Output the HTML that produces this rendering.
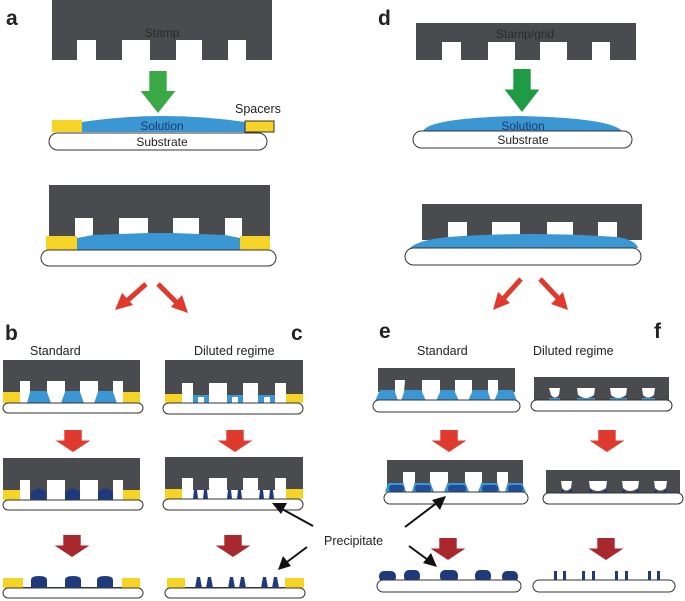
<!DOCTYPE html>
<html><head><meta charset="utf-8"><style>
html,body{margin:0;padding:0;background:#fff}
svg{display:block}
text{font-family:"Liberation Sans",sans-serif}
</style></head><body>
<svg width="685" height="601" viewBox="0 0 685 601" xmlns="http://www.w3.org/2000/svg">
<defs>
<g id="dn"><polygon points="-6,0 6,0 6,10 12,10 0,21 -12,10 -6,10"/></g>
</defs>
<g font-weight="bold" font-size="21" fill="#222">
<text x="6" y="25">a</text><text x="378" y="25">d</text>
<text x="5" y="340">b</text><text x="291" y="340">c</text>
<text x="379" y="338">e</text><text x="654" y="338">f</text>
</g>
<g font-size="12.5" fill="#222">
<text x="30" y="355">Standard</text><text x="194" y="355">Diluted regime</text>
<text x="417" y="355">Standard</text><text x="533" y="355">Diluted regime</text>
<text x="235" y="113">Spacers</text>
<text x="324" y="545">Precipitate</text>
</g>

<!-- a top -->
<rect x="52" y="0" width="220" height="60" fill="#4a4b4f"/>
<g fill="#fff"><rect x="77" y="40" width="19" height="21"/><rect x="122" y="40" width="28" height="21"/><rect x="176" y="40" width="26" height="21"/><rect x="228" y="40" width="18" height="21"/></g>
<text x="162" y="37" font-size="12" fill="#2a2a2a" text-anchor="middle">Stamp</text>
<g fill="#3aa845" transform="translate(158,71) scale(1.45,2)"><use href="#dn"/></g>
<path d="M82,132 L82,122 Q162,110 245,122 L245,132 Z" fill="#3a97d4"/>
<rect x="52" y="120" width="30" height="12" fill="#f5d327"/>
<rect x="245" y="121" width="29" height="11" fill="#f5d327" stroke="#333" stroke-width="1"/>
<text x="162" y="130" font-size="12" fill="#1a3a6a" text-anchor="middle">Solution</text>
<rect x="49" y="133" width="218" height="17" rx="8.5" fill="#fff" stroke="#333"/>
<text x="162" y="146" font-size="12" fill="#222" text-anchor="middle">Substrate</text>

<!-- a bottom -->
<rect x="49" y="185" width="221" height="52" fill="#4a4b4f"/>
<g fill="#fff"><rect x="75" y="218" width="18" height="20"/><rect x="119" y="218" width="29" height="20"/><rect x="173" y="218" width="26" height="20"/><rect x="225" y="218" width="17" height="20"/></g>
<path d="M77,250 L77,238 L93,235 L119,234 L148,233 L173,233 L199,234 L225,235 L240,238 L240,250 Z" fill="#3a97d4"/>
<rect x="46" y="236" width="31" height="14" fill="#f5d327"/>
<rect x="240" y="236" width="30" height="14" fill="#f5d327"/>
<rect x="41" y="250" width="235" height="16" rx="8" fill="#fff" stroke="#333"/>
<g stroke="#e03a2e" stroke-width="5"><line x1="146" y1="284" x2="128" y2="300"/><line x1="158" y1="284" x2="176" y2="302"/></g>
<g fill="#e03a2e"><polygon points="115,310 122,293 133,305"/><polygon points="188,313 171,307 182,295"/></g>

<!-- d top -->
<rect x="416" y="23" width="220" height="37" fill="#4a4b4f"/>
<g fill="#fff"><rect x="442" y="42" width="19" height="19"/><rect x="488" y="42" width="27" height="19"/><rect x="540" y="42" width="27" height="19"/><rect x="592" y="42" width="18" height="19"/></g>
<text x="525" y="38" font-size="12" fill="#2a2a2a" text-anchor="middle">Stamp/grid</text>
<g fill="#1f9a45" transform="translate(522,69) scale(1.45,2.05)"><use href="#dn"/></g>
<path d="M423,131 Q430,118 520,116 Q610,118 622,131 Z" fill="#3a97d4"/>
<text x="523" y="130" font-size="12" fill="#1a3a6a" text-anchor="middle">Solution</text>
<rect x="413" y="131" width="219" height="17" rx="8.5" fill="#fff" stroke="#333"/>
<text x="523" y="144" font-size="12" fill="#222" text-anchor="middle">Substrate</text>

<!-- d bottom -->
<rect x="422" y="204" width="220" height="36" fill="#4a4b4f"/>
<g fill="#fff"><rect x="448" y="222" width="19" height="18"/><rect x="492" y="222" width="28" height="18"/><rect x="547" y="222" width="26" height="18"/><rect x="598" y="222" width="19" height="18"/></g>
<path d="M410,248 Q418,240 448,237 Q530,231 617,237 Q636,240 638,248 Z" fill="#3a97d4"/>
<rect x="405" y="248" width="236" height="17" rx="8.5" fill="#fff" stroke="#333"/>
<g stroke="#e03a2e" stroke-width="5"><line x1="521" y1="279" x2="504" y2="298"/><line x1="540" y1="279" x2="558" y2="298"/></g>
<g fill="#e03a2e"><polygon points="493,310 498,292 510,303"/><polygon points="568,310 551,304 563,292"/></g>

<!-- b row1 -->
<rect x="3" y="360" width="137" height="32" fill="#4a4b4f"/>
<g fill="#3a97d4"><polygon points="30,391 47,391 51,403 27,403"/><polygon points="65,391 80,391 84,403 61,403"/><polygon points="98,391 113,391 117,403 94,403"/></g>
<g fill="#fff"><polygon points="20,381 30,381 30,392 27,403 20,403"/><polygon points="47,381 65,381 65,392 61,403 51,403 47,392"/><polygon points="80,381 98,381 98,392 94,403 84,403 80,392"/><polygon points="113,381 123,381 123,403 117,403 113,392"/></g>
<rect x="3" y="392" width="17" height="11" fill="#f5d327"/><rect x="123" y="392" width="17" height="11" fill="#f5d327"/>
<rect x="3" y="403" width="140" height="10" rx="5" fill="#fff" stroke="#333"/>

<!-- c row1 -->
<rect x="165" y="360" width="138" height="35" fill="#4a4b4f"/>
<g fill="#fff"><rect x="182" y="383" width="11" height="20"/><rect x="209" y="383" width="18" height="20"/><rect x="243" y="383" width="15" height="20"/><rect x="275" y="383" width="11" height="20"/></g>
<g fill="#3a97d4"><rect x="193" y="395" width="16" height="8"/><rect x="227" y="395" width="16" height="8"/><rect x="258" y="395" width="17" height="8"/></g>
<g fill="#fff"><rect x="198" y="397" width="6" height="6"/><rect x="232" y="397" width="6" height="6"/><rect x="264" y="397" width="6" height="6"/></g>
<rect x="165" y="394" width="17" height="9" fill="#f5d327"/><rect x="286" y="394" width="17" height="9" fill="#f5d327"/>
<rect x="163" y="403" width="140" height="11" rx="5.5" fill="#fff" stroke="#333"/>

<!-- e row1 -->
<rect x="378" y="368" width="137" height="24" fill="#4a4b4f"/>
<polygon points="380,390 513,390 517,401 375,401" fill="#3a97d4"/>
<g fill="#fff"><polygon points="395,380 405,380 404,392 401,401 398,401 395,392"/><polygon points="422,380 440,380 440,392 436,401 426,401 422,392"/><polygon points="455,380 472,380 472,392 468,401 459,401 455,392"/><polygon points="488,380 498,380 498,392 494,401 491,401 488,392"/></g>
<rect x="373" y="400" width="147" height="12" rx="6" fill="#fff" stroke="#333"/>

<!-- f row1 -->
<rect x="534" y="377" width="135" height="23" fill="#4a4b4f"/>
<g fill="#fff"><path d="M549,388 L560,388 L559,395 Q555,400 551,395Z"/><path d="M577,388 L595,388 L594,395 Q586,401 578,395Z"/><path d="M610,388 L627,388 L626,395 Q618,401 611,395Z"/><path d="M642,388 L655,388 L654,395 Q648,400 643,395Z"/></g>
<g fill="#3a97d4"><rect x="549" y="398" width="11" height="2"/><rect x="577" y="398" width="18" height="2"/><rect x="610" y="398" width="17" height="2"/><rect x="642" y="398" width="13" height="2"/></g>
<rect x="531" y="400" width="141" height="11" rx="5.5" fill="#fff" stroke="#333"/>

<g fill="#e03a2e">
<g transform="translate(73,430) scale(1.45,1.05)"><use href="#dn"/></g>
<g transform="translate(235,430) scale(1.45,1.05)"><use href="#dn"/></g>
<g transform="translate(449,430) scale(1.45,1.05)"><use href="#dn"/></g>
<g transform="translate(607,430) scale(1.45,1.05)"><use href="#dn"/></g>
</g>

<!-- b row2 -->
<rect x="3" y="458" width="137" height="42" fill="#4a4b4f"/>
<g fill="#fff"><rect x="20" y="480" width="10" height="20"/><rect x="47" y="480" width="18" height="20"/><rect x="80" y="480" width="18" height="20"/><rect x="113" y="480" width="10" height="20"/></g>
<g fill="#1f3a7a"><path d="M31,500 L31,492 Q39,485 46,492 L46,500 Z"/><path d="M65,500 L65,492 Q73,485 80,492 L80,500 Z"/><path d="M98,500 L98,492 Q106,485 113,492 L113,500 Z"/></g>
<rect x="3" y="490" width="17" height="10" fill="#f5d327"/><rect x="123" y="490" width="17" height="10" fill="#f5d327"/>
<rect x="3" y="500" width="140" height="10" rx="5" fill="#fff" stroke="#333"/>

<!-- c row2 -->
<rect x="165" y="457" width="138" height="42" fill="#4a4b4f"/>
<g fill="#fff"><rect x="182" y="478" width="11" height="21"/><rect x="209" y="478" width="18" height="21"/><rect x="243" y="478" width="15" height="21"/><rect x="275" y="478" width="11" height="21"/></g>
<g fill="#fff"><rect x="193" y="490" width="16" height="9"/><rect x="227" y="490" width="16" height="9"/><rect x="258" y="490" width="17" height="9"/></g>
<g fill="#1f3a7a"><polygon points="194,490 197,490 198,499 193,499"/><polygon points="204,490 207,490 208,499 203,499"/><polygon points="228,490 231,490 232,499 227,499"/><polygon points="238,490 241,490 242,499 237,499"/><polygon points="260,490 263,490 264,499 259,499"/><polygon points="270,490 273,490 274,499 269,499"/></g>
<rect x="165" y="489" width="17" height="10" fill="#f5d327"/><rect x="286" y="489" width="17" height="10" fill="#f5d327"/>
<rect x="163" y="499" width="140" height="11" rx="5.5" fill="#fff" stroke="#333"/>

<!-- e row2 -->
<rect x="387" y="460" width="136" height="32" fill="#4a4b4f"/>
<g fill="#fff"><polygon points="403,472 415,472 415,482 412,492 406,492 403,482"/><polygon points="430,472 448,472 448,482 444,492 434,492 430,482"/><polygon points="465,472 482,472 482,482 478,492 469,492 465,482"/><polygon points="497,472 508,472 508,482 505,492 500,492 497,482"/></g>
<g fill="#3a97d4"><path d="M385,492 L388,483 L403,483 L406,492Z"/><path d="M412,492 L415,483 L430,483 L434,492Z"/><path d="M444,492 L448,483 L465,483 L469,492Z"/><path d="M478,492 L482,483 L497,483 L500,492Z"/><path d="M505,492 L508,483 L522,483 L526,492Z"/></g>
<g fill="#1f4f9a"><rect x="389" y="485" width="15" height="7" rx="3"/><rect x="415" y="485" width="16" height="7" rx="3"/><rect x="448" y="485" width="18" height="7" rx="3"/><rect x="482" y="485" width="16" height="7" rx="3"/><rect x="508" y="485" width="15" height="7" rx="3"/></g>
<rect x="384" y="492" width="144" height="12" rx="6" fill="#fff" stroke="#333"/>

<!-- f row2 -->
<rect x="546" y="470" width="134" height="23" fill="#4a4b4f"/>
<g fill="#fff"><path d="M561,481 L572,481 L571,488 Q566,493 562,488Z"/><path d="M589,481 L607,481 L606,488 Q598,494 590,488Z"/><path d="M622,481 L639,481 L638,488 Q630,494 623,488Z"/><path d="M654,481 L667,481 L666,488 Q660,493 655,488Z"/></g>
<g fill="#1f3a7a"><rect x="561" y="490" width="3" height="3"/><rect x="569" y="490" width="3" height="3"/><rect x="589" y="490" width="3" height="3"/><rect x="604" y="490" width="3" height="3"/><rect x="622" y="490" width="3" height="3"/><rect x="636" y="490" width="3" height="3"/><rect x="654" y="490" width="3" height="3"/><rect x="664" y="490" width="3" height="3"/></g>
<rect x="543" y="493" width="140" height="11" rx="5.5" fill="#fff" stroke="#333"/>

<g fill="#a8282e">
<g transform="translate(72,535) scale(1.45,1.05)"><use href="#dn"/></g>
<g transform="translate(233,535) scale(1.45,1.05)"><use href="#dn"/></g>
<g transform="translate(448,538) scale(1.45,1.05)"><use href="#dn"/></g>
<g transform="translate(606,538) scale(1.45,1.05)"><use href="#dn"/></g>
</g>

<!-- b row3 -->
<rect x="3" y="578" width="20" height="10" fill="#f5d327"/><rect x="122" y="578" width="18" height="10" fill="#f5d327"/>
<line x1="23" y1="587.5" x2="122" y2="587.5" stroke="#333"/>
<g fill="#1f3a7a"><path d="M31,588 L31,580 Q31,576 39,576 Q47,576 47,580 L47,588Z"/><path d="M65,588 L65,580 Q65,576 73,576 Q81,576 81,580 L81,588Z"/><path d="M97,588 L97,580 Q97,576 105,576 Q113,576 113,580 L113,588Z"/></g>
<rect x="3" y="588" width="140" height="10" rx="5" fill="#fff" stroke="#333"/>

<!-- c row3 -->
<rect x="167" y="578" width="18" height="10" fill="#f5d327"/><rect x="285" y="578" width="19" height="10" fill="#f5d327"/>
<line x1="185" y1="587.5" x2="285" y2="587.5" stroke="#333"/>
<g fill="#1f3a7a"><polygon points="195,588 197,577 200,577 202,588"/><polygon points="206,588 208,577 211,577 213,588"/><polygon points="228,588 230,577 233,577 235,588"/><polygon points="239,588 241,577 244,577 246,588"/><polygon points="261,588 263,577 266,577 268,588"/><polygon points="272,588 274,577 277,577 279,588"/></g>
<rect x="165" y="588" width="140" height="10" rx="5" fill="#fff" stroke="#333"/>

<!-- e row3 -->
<g fill="#1f3a7a"><rect x="379" y="571" width="17" height="11" rx="5"/><rect x="404" y="570" width="16" height="12" rx="5"/><rect x="440" y="570" width="18" height="12" rx="5"/><rect x="475" y="570" width="16" height="12" rx="5"/><rect x="502" y="571" width="16" height="11" rx="5"/></g>
<rect x="377" y="580" width="144" height="12" rx="6" fill="#fff" stroke="#333"/>

<!-- f row3 -->
<g fill="#1f3a7a"><rect x="554" y="571" width="3" height="9"/><rect x="563" y="571" width="3" height="9"/><rect x="582" y="571" width="3" height="9"/><rect x="592" y="571" width="3" height="9"/><rect x="615" y="571" width="3" height="9"/><rect x="625" y="571" width="3" height="9"/><rect x="648" y="571" width="3" height="9"/><rect x="657" y="571" width="3" height="9"/></g>
<rect x="533" y="580" width="142" height="12" rx="6" fill="#fff" stroke="#333"/>

<!-- precipitate arrows -->
<g stroke="#111" stroke-width="2"><line x1="313" y1="526" x2="282" y2="509"/><line x1="307" y1="547" x2="287" y2="562"/><line x1="405" y1="527" x2="438" y2="502"/><line x1="409" y1="546" x2="428" y2="560"/></g>
<g fill="#111"><polygon points="272,503 287,503 281,514"/><polygon points="278,570 283,556 291,566"/><polygon points="446,496 440,510 432,500"/><polygon points="437,567 423,563 431,553"/></g>
</svg>
</body></html>
